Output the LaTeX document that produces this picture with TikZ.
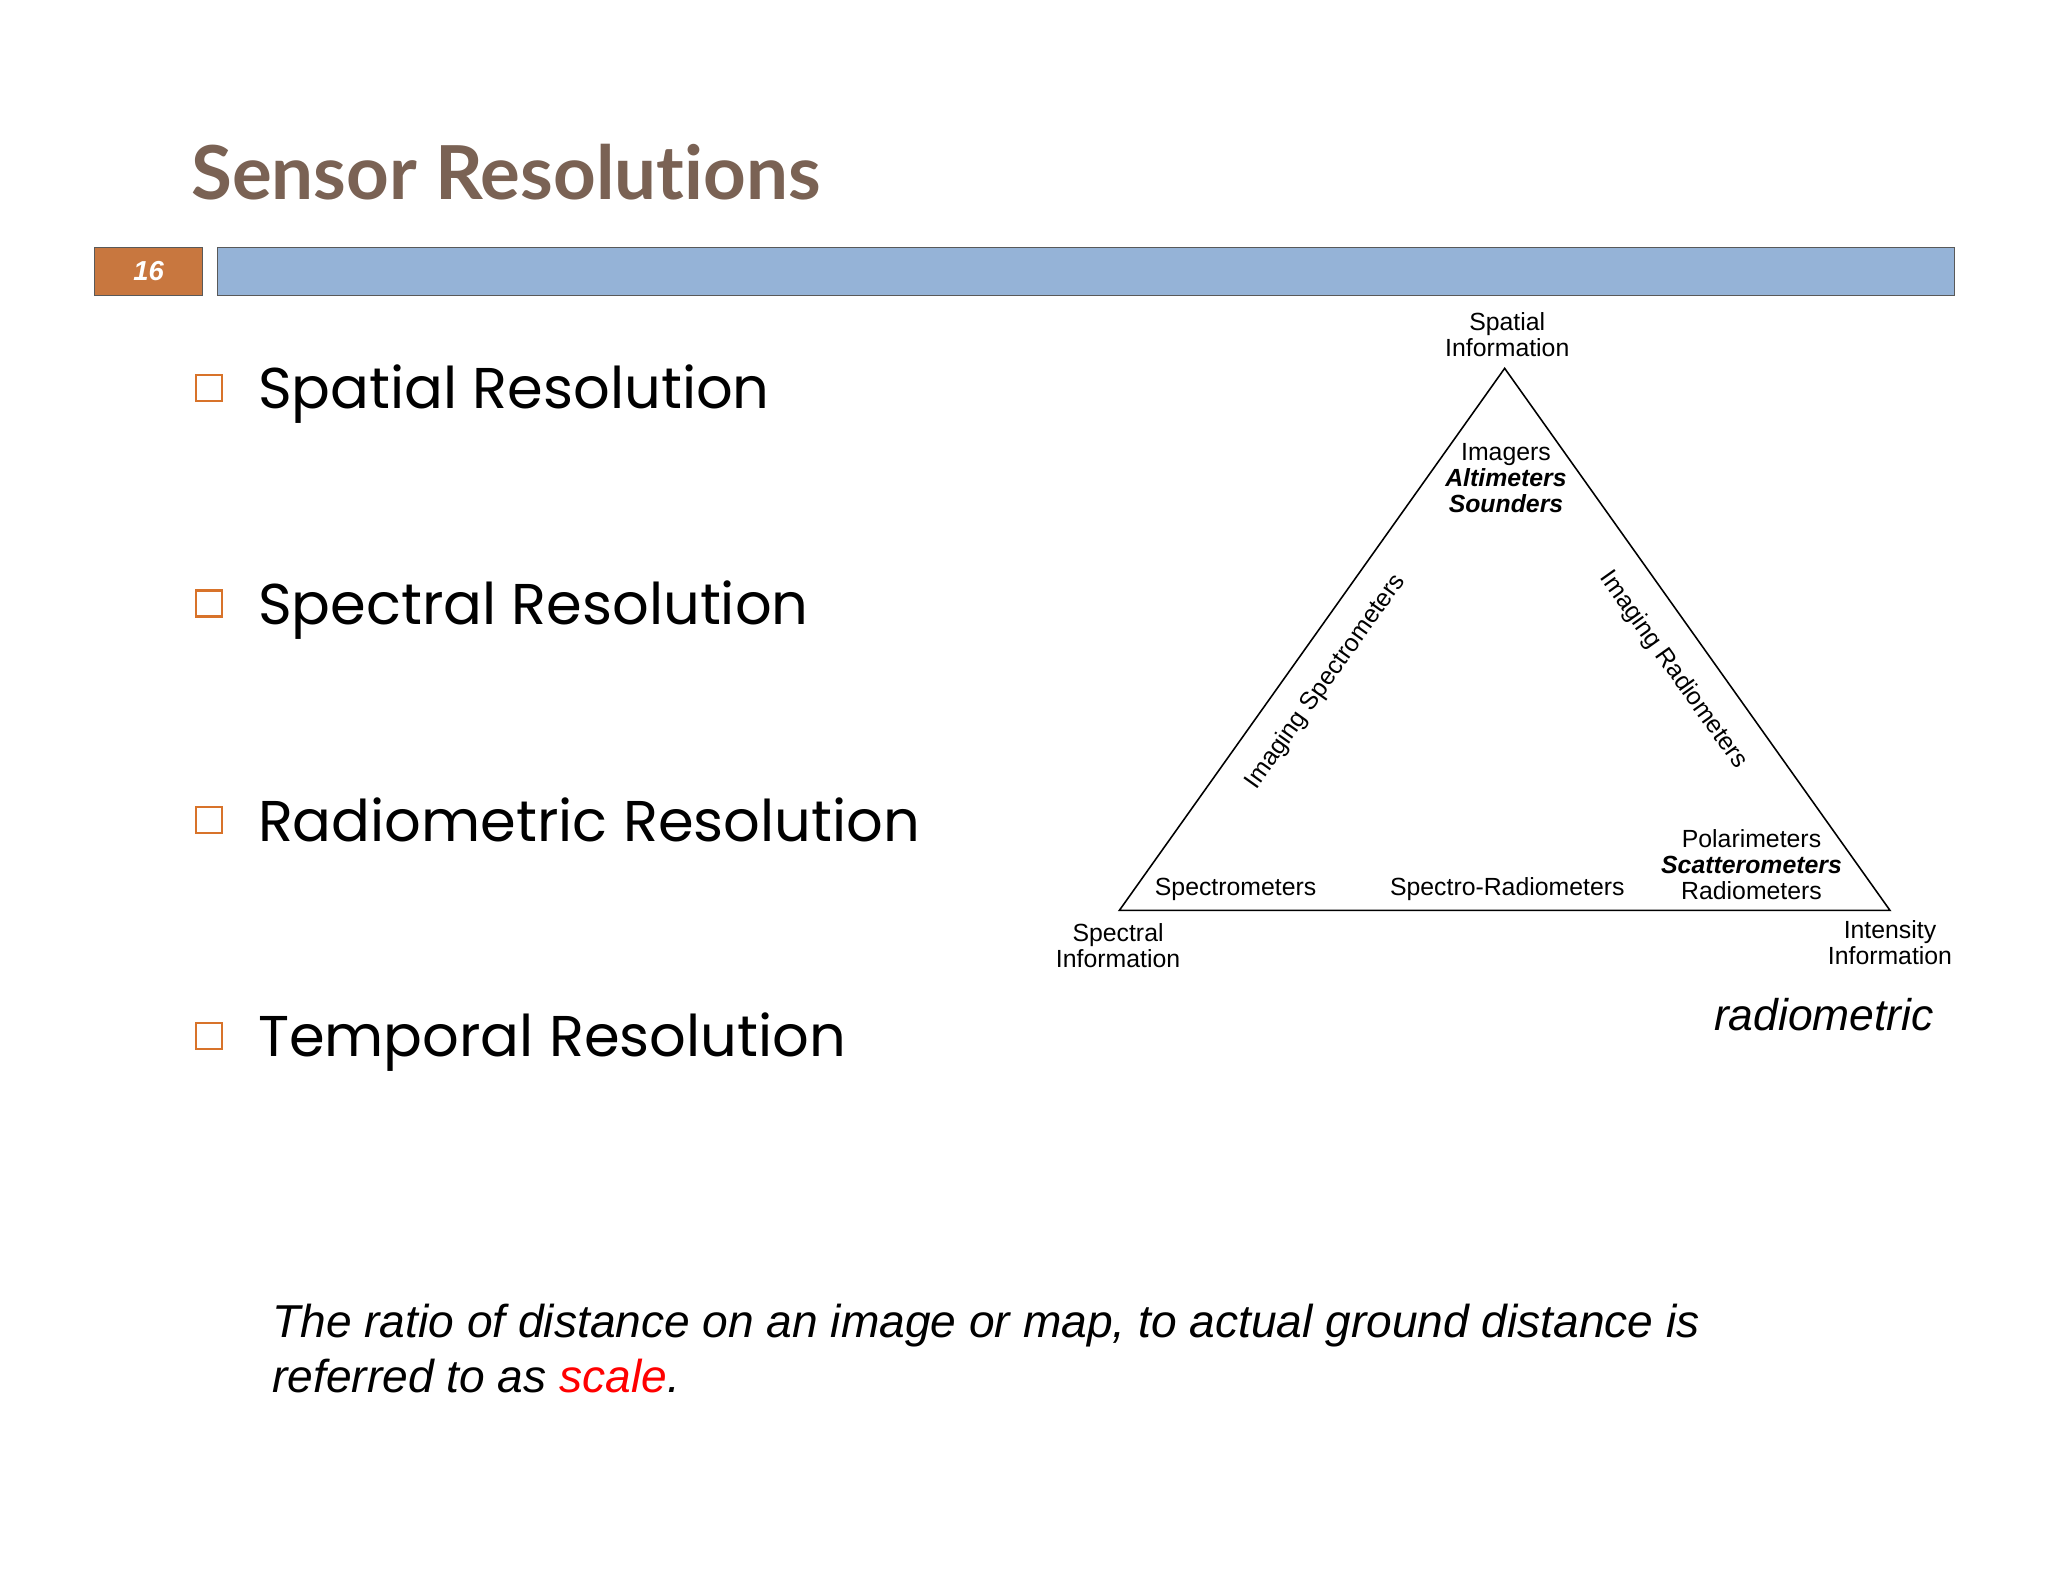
\documentclass[tikz,border=0pt]{standalone}
\usepackage{fontspec}
\setmainfont{Liberation Sans}
\newfontfamily\titlefont[Ligatures={NoCommon,NoRare,NoContextual}]{Lato}
\newfontfamily\bulfont{Poppins}
\definecolor{titlec}{HTML}{7A6254}
\definecolor{barc}{HTML}{95B3D7}
\definecolor{numc}{HTML}{C8773F}
\definecolor{sqc}{HTML}{D8732A}
\begin{document}
\begin{tikzpicture}[x=1pt,y=1pt,
  tri/.style={font=\fontsize{19}{20}\selectfont, align=center, inner sep=1pt},
  bul/.style={anchor=base west, font=\bulfont\fontsize{44}{48}\selectfont},
  sq/.style={draw=sqc, line width=1.8pt, minimum size=20pt, inner sep=0pt}]
\useasboundingbox (0,0) rectangle (1568,-1211);
\fill[white] (0,0) rectangle (1568,-1211);
\node[anchor=base west, text=titlec, font=\titlefont\bfseries\fontsize{57}{60}\selectfont] (title) at (143,-153) {Sensor Resolutions};
\node[draw=gray!70!black, fill=numc, minimum width=83pt, minimum height=37pt, inner sep=0pt, anchor=north west,
  font=\bfseries\itshape\fontsize{21}{22}\selectfont, text=white] (num) at (72,-189) {16};
\node[draw=gray!70!black, line width=1pt, fill=barc, minimum width=1330pt, minimum height=37pt, inner sep=0pt, anchor=north west] (bar) at (166,-189) {};
\foreach \y/\t [count=\i] in {297/Spatial Resolution,462/Spectral Resolution,628/Radiometric Resolution,793/Temporal Resolution}{
  \node[sq] (s\i) at (160,-\y) {};
  \node[bul] (b\i) at (194,-\y-16) {\t};
}
\coordinate (A) at (1152,-282);
\coordinate (L) at (857,-697);
\coordinate (R) at (1447,-697);
\draw[line width=1.2pt] (A) -- (L) -- (R) -- cycle;
\node[tri] (sp) at (1154,-256) {Spatial\\Information};
\node[tri] (spc) at (856,-724) {Spectral\\Information};
\node[tri] (int) at (1447,-722) {Intensity\\Information};
\node[tri] (img) at (1153,-366) {Imagers\\\textbf{\textit{Altimeters}}\\\textbf{\textit{Sounders}}};
\node[tri] (pol) at (1341,-662) {Polarimeters\\\textbf{\textit{Scatterometers}}\\Radiometers};
\node[tri] (sm) at (946,-681) {Spectrometers};
\node[tri] (sr) at (1154,-681) {Spectro-Radiometers};
\node[tri, rotate=54.6] (is) at (1015,-522) {Imaging Spectrometers};
\node[tri, rotate=-54.6] (ir) at (1281,-513) {Imaging Radiometers};
\node[anchor=base east, font=\itshape\fontsize{34}{36}\selectfont] (rad) at (1484,-789) {radiometric};
\node[anchor=north west, align=left, font=\itshape\fontsize{35.3}{42}\selectfont] (cap) at (205,-995)
 {The ratio of distance on an image or map, to actual ground distance is\\referred to as \textcolor{red}{scale}.};
\end{tikzpicture}
\end{document}
